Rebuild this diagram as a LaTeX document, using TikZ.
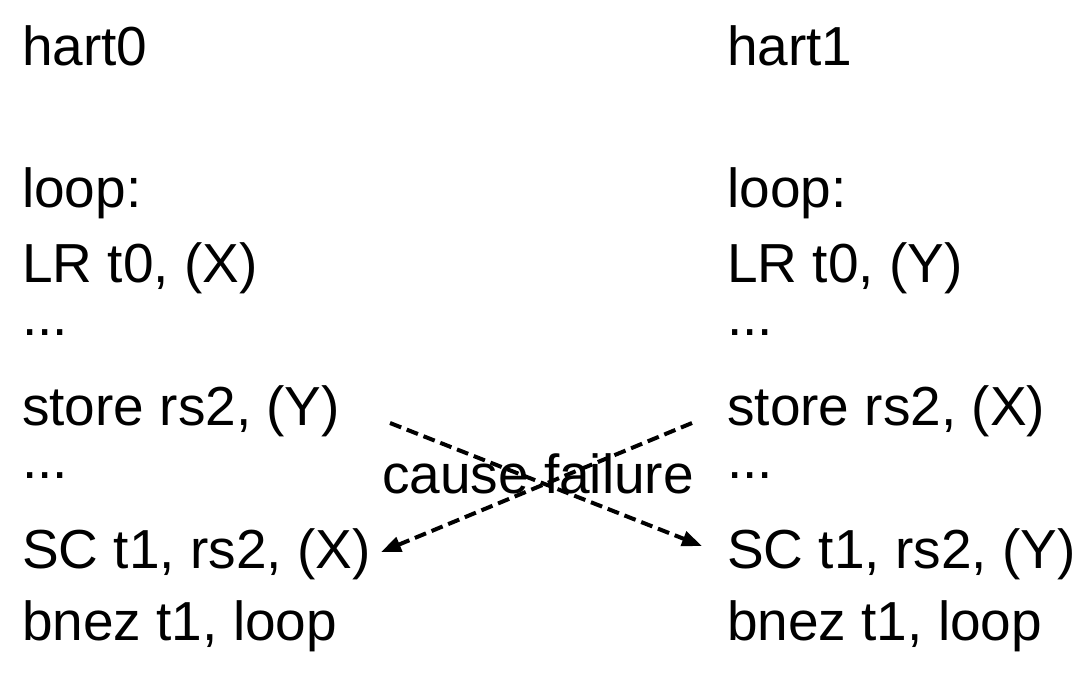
\documentclass[tikz,border=0pt]{standalone}
\usepackage{fontspec}
\setmainfont{Liberation Sans}
\usetikzlibrary{arrows.meta}
\begin{document}
\begin{tikzpicture}[x=1pt,y=-1pt,
  code/.style={anchor=base west,inner sep=0pt,font=\fontsize{55}{66}\selectfont},
  conn/.style={line width=4pt,dash pattern=on 12pt off 6pt,-{Stealth[length=20pt,width=15pt,inset=0pt]}}]
\useasboundingbox (0,0) rectangle (1089,672);
\node[code] (h0) at (22,65) {hart0};
\node[code] (l0) at (22,207) {loop:};
\node[code] (lr0) at (22,282) {LR t0, (X)};
\node[code] (d0a) at (22,335) {...};
\node[code] (st0) at (22,425) {store rs2, (Y)};
\node[code] (d0b) at (22,478) {...};
\node[code] (sc0) at (22,568) {SC t1, rs2, (X)};
\node[code] (bn0) at (22,640) {bnez t1, loop};
\node[code] (h1) at (727,65) {hart1};
\node[code] (l1) at (727,207) {loop:};
\node[code] (lr1) at (727,282) {LR t0, (Y)};
\node[code] (d1a) at (727,335) {...};
\node[code] (st1) at (727,425) {store rs2, (X)};
\node[code] (d1b) at (727,478) {...};
\node[code] (sc1) at (727,568) {SC t1, rs2, (Y)};
\node[code] (bn1) at (727,640) {bnez t1, loop};
\node[code,anchor=base] (cf) at (538,493) {cause failure};
\coordinate (a1s) at (390,423);
\coordinate (a1e) at (702,546);
\coordinate (a2s) at (692,423);
\coordinate (a2e) at (381,552);
\draw[conn] (a1s) -- (a1e);
\draw[conn] (a2s) -- (a2e);
\end{tikzpicture}
\end{document}
